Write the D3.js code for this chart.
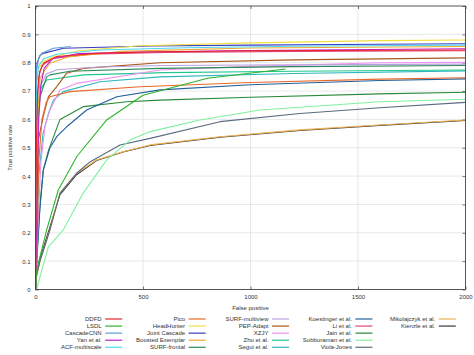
<!DOCTYPE html>
<html><head><meta charset="utf-8">
<script src="https://cdn.jsdelivr.net/npm/d3@7"></script>
<style>body{margin:0;background:#fff}svg{display:block;font-family:"Liberation Sans",Arial,sans-serif}</style>
</head><body><svg id="c" width="474" height="355"></svg>
<script>
// ---- data ----
const xTicks = [0, 500, 1000, 1500, 2000];
const yTicks = [0, 0.1, 0.2, 0.3, 0.4, 0.5, 0.6, 0.7, 0.8, 0.9, 1];
const yTickLabels = ["0","0.1","0.2","0.3","0.4","0.5","0.6","0.7","0.8","0.9","1"];

const ddfd = [[0,0],[2,0.3],[5,0.55],[10,0.7],[20,0.77],[40,0.8],[100,0.822],[284,0.833],[533,0.838],[1000,0.842],[2000,0.845]];
const lsdl = [[0,0],[6,0.07],[52,0.21],[106,0.351],[193,0.47],[331,0.598],[500,0.685],[800,0.745],[1163,0.778]];
const cascadeCNN = [[0,0],[1,0.5],[3,0.75],[6,0.786],[15,0.815],[29,0.833],[83,0.851],[165,0.857]];
const yan = [[0,0],[5,0.2],[10,0.45],[15,0.6],[25,0.72],[40,0.78],[80,0.815],[200,0.832],[500,0.838],[1000,0.843],[2000,0.849]];
const acf = [[0,0],[2,0.5],[5,0.72],[15,0.79],[40,0.815],[100,0.83],[300,0.845],[700,0.853],[1200,0.858],[2000,0.862]];
const pico = [[0,0],[5,0.2],[15,0.45],[30,0.6],[50,0.66],[67,0.68],[160,0.698],[486,0.715],[1000,0.73],[1602,0.742],[2000,0.747]];
const headHunter = [[0,0],[1,0.5],[3,0.7],[8,0.76],[15,0.78],[36,0.804],[83,0.821],[200,0.842],[486,0.86],[1000,0.87],[1602,0.878],[2000,0.88]];
const jointCascade = [[0,0],[1,0.6],[3,0.76],[8,0.8],[20,0.825],[36,0.833],[130,0.851],[533,0.859],[1000,0.862],[1600,0.865],[2000,0.867]];
const boosted = [[0,0],[3,0.3],[10,0.6],[21,0.745],[44,0.774],[67,0.798],[150,0.82],[400,0.84],[1000,0.852],[2000,0.857]];
const surfFrontal = [[0,0],[3,0.4],[10,0.6],[21,0.68],[52,0.75],[67,0.757],[160,0.77],[579,0.78],[1200,0.786],[2000,0.79]];
const surfMulti = [[0,0],[5,0.35],[12,0.6],[25,0.72],[50,0.76],[100,0.775],[300,0.785],[600,0.79],[1000,0.792],[2000,0.795]];
const pepAdapt = [[0,0],[10,0.25],[13,0.527],[36,0.61],[60,0.68],[98,0.715],[145,0.763],[222,0.78],[579,0.8],[1200,0.81],[2000,0.817]];
const xzjy = [[0,0],[10,0.2],[25,0.45],[45,0.58],[67,0.633],[114,0.704],[191,0.727],[579,0.774],[1000,0.787],[1600,0.8],[2000,0.801]];
const zhu = [[0,0],[2,0.3],[6,0.55],[12,0.65],[21,0.704],[52,0.739],[222,0.757],[600,0.765],[1200,0.77],[2000,0.774]];
const segui = [[0,0],[5,0.2],[15,0.4],[35,0.55],[60,0.62],[83,0.668],[129,0.698],[300,0.733],[579,0.75],[1200,0.762],[2000,0.771]];
const koestinger = [[0,0],[10,0.15],[20,0.28],[36,0.42],[67,0.5],[100,0.54],[145,0.574],[238,0.633],[378,0.68],[579,0.704],[1000,0.722],[1602,0.737],[2000,0.743]];
const li = [[0,0],[3,0.4],[8,0.65],[15,0.75],[30,0.79],[80,0.815],[250,0.83],[600,0.836],[1200,0.84],[2000,0.842]];
const jain = [[0,0],[5,0.1],[21,0.3],[36,0.42],[60,0.49],[114,0.6],[222,0.645],[424,0.662],[579,0.668],[1000,0.678],[1600,0.69],[2000,0.696]];
const subburaman = [[0,0],[5,0],[30,0.07],[60,0.15],[129,0.21],[222,0.34],[331,0.457],[440,0.527],[533,0.557],[765,0.598],[1044,0.633],[1602,0.662],[2000,0.671]];
const violaJones = [[0,0],[5,0.05],[21,0.1],[67,0.21],[114,0.34],[191,0.41],[253,0.45],[393,0.51],[533,0.533],[858,0.592],[1230,0.621],[1602,0.641],[2000,0.66]];
const mikolajczyk = [[0,0],[5,0.05],[21,0.1],[67,0.21],[114,0.34],[191,0.41],[284,0.457],[407,0.486],[533,0.51],[858,0.539],[1230,0.563],[1602,0.58],[2000,0.598]];
const kienzle = [[0,0],[5,0.05],[21,0.11],[67,0.22],[114,0.335],[191,0.405],[284,0.455],[407,0.485],[533,0.508],[858,0.537],[1230,0.561],[1602,0.579],[2000,0.596]];

const seriesNames = ["DDFD","LSDL","CascadeCNN","Yan et al.","ACF-multiscale",
  "Pico","HeadHunter","Joint Cascade","Boosted Exemplar","SURF-frontal",
  "SURF-multiview","PEP-Adapt","XZJY","Zhu et al.","Segui et al.",
  "Koestinger et al.","Li et al.","Jain et al.","Subburaman et al.","Viola-Jones",
  "Mikolajczyk et al.","Kienzle et al."];
const seriesValues = [ddfd,lsdl,cascadeCNN,yan,acf,pico,headHunter,jointCascade,boosted,surfFrontal,
  surfMulti,pepAdapt,xzjy,zhu,segui,koestinger,li,jain,subburaman,violaJones,mikolajczyk,kienzle];
const seriesColors = ["#e8262a","#2cb52c","#5aa0d8","#c020d0","#50d8f0",
  "#e86a2a","#f0e040","#3c3cc0","#f0a830","#2a8a5a",
  "#b8a0e0","#a8581a","#f090f0","#20c890","#30b8c0",
  "#20609c","#e04878","#2a8a3a","#80f0a0","#5a6a80",
  "#f0b050","#383838"];

// ---- drawing ----
const svg = d3.select("#c");
const L = 35.5, R = 465.5, T = 6, B = 289.5;
const x = d3.scaleLinear().domain([0,2000]).range([L,R]);
const y = d3.scaleLinear().domain([0,1]).range([B,T]);
const fs = 6;
const txt = "#333";

// grid
const g = svg.append("g");
g.selectAll(".gx").data(xTicks.slice(1,-1)).join("line")
  .attr("x1",d=>x(d)).attr("x2",d=>x(d)).attr("y1",T).attr("y2",B)
  .attr("stroke","#e2e2e2").attr("stroke-width",0.8);
g.selectAll(".gy").data(yTicks.slice(1,-1)).join("line")
  .attr("x1",L).attr("x2",R).attr("y1",d=>y(d)).attr("y2",d=>y(d))
  .attr("stroke","#e2e2e2").attr("stroke-width",0.8);

// axes
const ax = svg.append("g").attr("transform",`translate(0,${B})`)
  .call(d3.axisBottom(x).tickValues(xTicks).tickSize(-3).tickPadding(5).tickFormat(d3.format("d")));
const ay = svg.append("g").attr("transform",`translate(${L},0)`)
  .call(d3.axisLeft(y).tickValues(yTicks).tickSize(-3).tickPadding(5).tickFormat((d,i)=>yTickLabels[i]));
const axT = svg.append("g").attr("transform",`translate(0,${T})`)
  .call(d3.axisTop(x).tickValues(xTicks).tickSize(-3).tickFormat(""));
const ayR = svg.append("g").attr("transform",`translate(${R},0)`)
  .call(d3.axisRight(y).tickValues(yTicks).tickSize(-3).tickFormat(""));
[ax,ay,axT,ayR].forEach(a=>{
  a.select(".domain").remove();
  a.selectAll("line").attr("stroke","#555").attr("stroke-width",0.8);
  a.selectAll("text").attr("font-size",fs).attr("fill",txt).attr("font-family","Liberation Sans, Arial, sans-serif");
});

// clip
svg.append("clipPath").attr("id","clip").append("rect")
  .attr("x",L).attr("y",T).attr("width",R-L).attr("height",B-T);

const line = d3.line().x(d=>x(d[0])).y(d=>y(d[1]));
const drawOrder = d3.range(seriesValues.length).reverse();
svg.append("g").attr("clip-path","url(#clip)")
  .selectAll("path").data(drawOrder).join("path")
  .attr("d",i=>line(seriesValues[i]))
  .attr("fill","none").attr("stroke",i=>seriesColors[i]).attr("stroke-width",1.1)
  .attr("stroke-linejoin","round");

// frame
svg.append("rect").attr("x",L).attr("y",T).attr("width",R-L).attr("height",B-T)
  .attr("fill","none").attr("stroke","#444").attr("stroke-width",0.9);

// axis titles
svg.append("text").attr("x",(L+R)/2).attr("y",309.5).attr("text-anchor","middle")
  .attr("font-size",fs).attr("fill",txt).text("False positive");
svg.append("text").attr("transform",`translate(12,${(T+B)/2}) rotate(-90)`).attr("text-anchor","middle")
  .attr("font-size",fs).attr("fill",txt).text("True positive rate");

// legend
const lg = svg.append("g");
seriesNames.forEach((n,i)=>{
  const col = Math.floor(i/5), row = i%5;
  const xe = 101.7 + col*83.4, yc = 319 + row*7.07;
  lg.append("text").attr("x",xe).attr("y",yc+2.1).attr("text-anchor","end")
    .attr("font-size",fs).attr("fill",txt).text(n);
  lg.append("line").attr("x1",xe+3.5).attr("x2",xe+20.5).attr("y1",yc).attr("y2",yc)
    .attr("stroke",seriesColors[i]).attr("stroke-width",1.2);
});
</script></body></html>
